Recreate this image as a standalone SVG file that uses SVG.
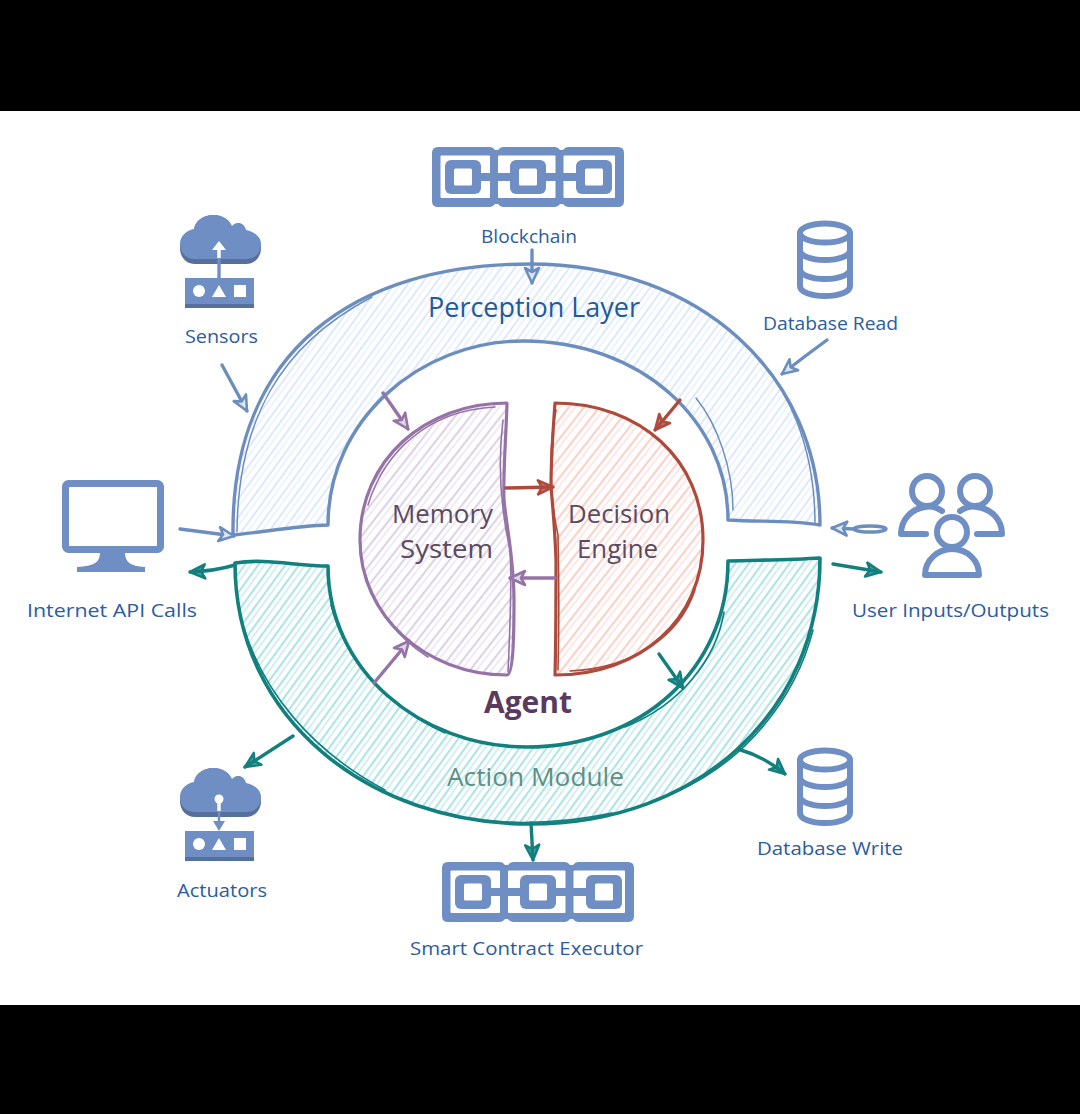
<svg xmlns="http://www.w3.org/2000/svg" xmlns:xlink="http://www.w3.org/1999/xlink" width="1080" height="1114" viewBox="0 0 1080 1114">
<style>
text{font-family:"Open Sans","Noto Sans",sans-serif;text-anchor:start}
.lbl{font-size:19px;fill:#2b5c9f}
.in{font-size:25.500px;fill:#5b4a62}
.ol{fill:none;stroke-linejoin:round;stroke-linecap:round}
.ic{fill:#6f8fc4}
.ics{fill:none;stroke:#6f8fc4;stroke-linecap:round;stroke-linejoin:round}
.arr{fill:none;stroke-width:3.400;stroke-linecap:round}
.blue{stroke:#6c8ebf}.teal{stroke:#12807f}.pur{stroke:#9673a6}.red{stroke:#ae4a3c}
</style>
<defs>
<pattern id="hb" width="11" height="23" patternUnits="userSpaceOnUse" patternTransform="rotate(36)"><path d="M2,0V23" stroke="#dce9fc" stroke-width="2"/><path d="M7,0V23" stroke="#e6effd" stroke-width="1.400"/></pattern>
<pattern id="ht" width="11" height="23" patternUnits="userSpaceOnUse" patternTransform="rotate(36)"><path d="M2,0V23" stroke="#b0e3e6" stroke-width="2.200"/><path d="M7,0V23" stroke="#c4ebed" stroke-width="1.500"/></pattern>
<pattern id="hp" width="12" height="23" patternUnits="userSpaceOnUse" patternTransform="rotate(38)"><path d="M3,0V23" stroke="#dfd2e6" stroke-width="2.200"/><path d="M8,0V23" stroke="#e8dfed" stroke-width="1.300"/></pattern>
<pattern id="hr" width="12" height="23" patternUnits="userSpaceOnUse" patternTransform="rotate(38)"><path d="M3,0V23" stroke="#fad0c9" stroke-width="2.200"/><path d="M8,0V23" stroke="#fcdcd7" stroke-width="1.300"/></pattern>
<marker id="mb" markerUnits="userSpaceOnUse" markerWidth="20" markerHeight="16" refX="15" refY="7" orient="auto" overflow="visible"><path d="M0,0L15,7L0,14L4,7Z" fill="#dae8fc" stroke="#6c8ebf" stroke-width="2.600" stroke-linejoin="round"/></marker>
<marker id="mt" markerUnits="userSpaceOnUse" markerWidth="20" markerHeight="16" refX="15" refY="7" orient="auto" overflow="visible"><path d="M0,0L15,7L0,14L4,7Z" fill="#12807f" fill-opacity=".75" stroke="#12807f" stroke-width="2.600" stroke-linejoin="round"/></marker>
<marker id="mp" markerUnits="userSpaceOnUse" markerWidth="20" markerHeight="16" refX="15" refY="7" orient="auto" overflow="visible"><path d="M0,0L15,7L0,14L4,7Z" fill="#e1d5e7" stroke="#9673a6" stroke-width="2.600" stroke-linejoin="round"/></marker>
<marker id="mr" markerUnits="userSpaceOnUse" markerWidth="20" markerHeight="16" refX="15" refY="7" orient="auto" overflow="visible"><path d="M0,0L15,7L0,14L4,7Z" fill="#ae4a3c" fill-opacity=".7" stroke="#ae4a3c" stroke-width="2.600" stroke-linejoin="round"/></marker>
<g id="chain">
<path class="ic" d="M6,0H58Q61,0 63,3H66Q68,0 71,0H123Q126,0 128,3H131Q133,0 136,0H186Q192,0 192,6V54Q192,60 186,60H136Q133,60 131,57H128Q126,60 123,60H71Q68,60 66,57H63Q61,60 58,60H6Q0,60 0,54V6Q0,0 6,0Z"/>
<g fill="#fff"><rect x="8.500" y="8.500" width="49.500" height="42.500" rx="1"/><rect x="66" y="8.500" width="57.500" height="42.500" rx="1"/><rect x="131.500" y="8.500" width="51.500" height="42.500" rx="1"/></g>
<g class="ic"><rect x="13" y="13" width="36" height="34" rx="6"/><rect x="78" y="13" width="36" height="34" rx="6"/><rect x="144" y="13" width="36" height="34" rx="6"/><rect x="47" y="26" width="100" height="8"/></g>
<g fill="#fff"><rect x="22" y="21.500" width="18" height="17" rx="1.500"/><rect x="87" y="21.500" width="18" height="17" rx="1.500"/><rect x="153" y="21.500" width="18" height="17" rx="1.500"/></g>
</g>
<g id="cloud">
<path fill="#56709e" d="M0,34C0,24 8,17 14,16C15,6 25,1 33,1C42,1 49,5 52,13C56,7 64,8 66,17C75,19 81,25 81,34C81,43 75,50 66,50H15C6,50 0,43 0,34Z"/>
<path class="ic" d="M0,30C0,21 8,16 14,15C15,6 25,1 33,1C42,1 49,5 52,12C56,7 64,8 66,16C75,18 81,23 81,30C81,39 75,45 66,45H15C6,45 0,39 0,30Z"/>
<rect class="ic" x="5" y="64" width="69" height="30"/><rect x="5" y="90" width="69" height="4" fill="#56709e"/>
<circle cx="19" cy="77" r="6" fill="#fff"/><path d="M32,83L39,71L46,83Z" fill="#fff"/><rect x="54" y="71" width="12" height="12" fill="#fff"/>
</g>
<g id="db" class="ics" stroke-width="6">
<ellipse cx="27" cy="12" rx="25" ry="9.500"/>
<path d="M2,12V65C2,71 13,75 27,75C41,75 52,71 52,65V12M2,29C2,35 13,39 27,39C41,39 52,35 52,29M2,48C2,54 13,58 27,58C41,58 52,54 52,48"/>
</g>
</defs>
<rect width="1080" height="1114" fill="#000"/>
<rect y="111" width="1080" height="894" fill="#fff"/>

<g id="perception-layer">
<path fill="url(#hb)" d="M233,535C231,350 355,264 530,264C700,264 820,375 820,525C790,520 760,522 728,520C728,420 640,341 523,341C420,341 328,420 328,525C295,526 265,532 233,535Z"/>
<path class="ol blue" stroke-width="3.400" d="M233,535C231,350 355,264 530,264C700,264 820,375 820,525C790,520 760,522 728,520C728,420 640,341 523,341C420,341 328,420 328,525C295,526 265,532 233,535Z"/>
<path class="ol blue" stroke-width="1.500" d="M237,532C238,420 280,345 372,297M745,345C790,385 815,450 815,524M696,398C718,425 733,470 733,510"/>
<text x="428" y="317" font-size="27" fill="#1f5a9e" textLength="212" lengthAdjust="spacingAndGlyphs">Perception Layer</text>
</g>

<g id="action-module">
<path fill="url(#ht)" d="M235,563C265,558 297,566 328,566C328,670 420,747 527,747C640,747 728,670 728,561C760,560 790,560 820,558C820,710 700,824 530,824C370,824 235,720 235,563Z"/>
<path class="ol teal" stroke-width="3.600" d="M235,563C265,558 297,566 328,566C328,670 420,747 527,747C640,747 728,670 728,561C760,560 790,560 820,558C820,710 700,824 530,824C370,824 235,720 235,563Z"/>
<path class="ol teal" stroke-width="1.600" d="M331,605C345,660 385,705 445,733M625,727C680,705 716,660 724,612M813,630C795,700 745,760 680,790M243,625C262,690 310,750 385,790M455,817C505,825 560,824 612,813"/>
<text x="447" y="786" font-size="26" fill="#5f8f85" textLength="177" lengthAdjust="spacingAndGlyphs">Action Module</text>
</g>

<g id="memory-system">
<path fill="url(#hp)" d="M507,403C425,403 360,460 360,540C360,615 425,675 507,675C513,675 514,640 514,600C514,560 507,530 504,500C503,470 506,440 507,403Z"/>
<path class="ol pur" stroke-width="3.200" d="M507,403C425,403 360,460 360,540C360,615 425,675 507,675C513,675 514,640 514,600C514,560 507,530 504,500C503,470 506,440 507,403Z"/>
<path class="ol pur" stroke-width="1.600" d="M495,407C430,410 385,450 368,505M364,570C375,610 400,640 428,657M503,420C498,460 500,505 510,550C512,580 510,630 508,672"/>
<text x="392" y="523" class="in" textLength="101" lengthAdjust="spacingAndGlyphs">Memory</text>
<text x="400" y="558" class="in" textLength="93" lengthAdjust="spacingAndGlyphs">System</text>
</g>

<g id="decision-engine">
<path fill="url(#hr)" d="M555,403C640,403 703,460 703,540C703,620 640,675 555,675C556,640 556,600 556,560C555,530 553,510 551,487C551,460 553,430 555,403Z"/>
<path class="ol red" stroke-width="3.200" d="M555,403C640,403 703,460 703,540C703,620 640,675 555,675C556,640 556,600 556,560C555,530 553,510 551,487C551,460 553,430 555,403Z"/>
<path class="ol red" stroke-width="1.600" d="M695,590C680,635 635,668 570,671M556,410C548,450 550,500 558,535C559,580 559,630 558,670"/>
<text x="568" y="523" class="in" textLength="102" lengthAdjust="spacingAndGlyphs">Decision</text>
<text x="577" y="558" class="in" textLength="81" lengthAdjust="spacingAndGlyphs">Engine</text>
</g>

<g id="agent"><text x="484" y="713" font-size="30" font-weight="700" fill="#5a3a5e" textLength="88" lengthAdjust="spacingAndGlyphs">Agent</text></g>

<g id="blockchain"><use xlink:href="#chain" href="#chain" x="432" y="147"/><text x="481" y="243" class="lbl" textLength="96" lengthAdjust="spacingAndGlyphs">Blockchain</text></g>

<g id="sensors"><use xlink:href="#cloud" href="#cloud" x="180" y="214"/>
<path d="M219,278V258" stroke="#6f8fc4" stroke-width="3.400"/><path d="M219,258V246" stroke="#fff" stroke-width="3.400"/><path d="M212,250L219,241L226,250Z" fill="#fff"/>
<text x="185" y="343" class="lbl" textLength="73" lengthAdjust="spacingAndGlyphs">Sensors</text></g>

<g id="database-read"><use xlink:href="#db" href="#db" x="798" y="221"/><text x="763" y="330" class="lbl" textLength="135" lengthAdjust="spacingAndGlyphs">Database Read</text></g>

<g id="internet-api"><rect x="65.500" y="483.500" width="95" height="66" rx="3" fill="none" stroke="#6f8fc4" stroke-width="7"/>
<path class="ic" d="M100,552H125C125,562 130,566 145,567V572H77V567C95,566 100,562 100,552Z"/>
<text x="27" y="617" class="lbl" textLength="170" lengthAdjust="spacingAndGlyphs">Internet API Calls</text></g>

<g id="users"><g class="ics" stroke-width="6">
<circle cx="927" cy="491" r="15"/><circle cx="975" cy="491" r="15"/><circle cx="952" cy="532" r="15"/>
<path d="M942,511C936,507 930,506 925,507C911,509 901,520 901,534H926M960,511C966,507 972,506 977,507C992,509 1002,520 1002,534H977"/>
<path d="M925,575C925,560 938,549 952,549C967,549 979,560 979,575Z"/>
</g><text x="852" y="617" class="lbl" textLength="197" lengthAdjust="spacingAndGlyphs">User Inputs/Outputs</text></g>

<g id="actuators"><use xlink:href="#cloud" href="#cloud" x="180" y="767"/>
<circle cx="219" cy="799" r="4.500" fill="#fff"/><path d="M219,799V811" stroke="#fff" stroke-width="3.400"/><path d="M219,811V826" stroke="#6f8fc4" stroke-width="2.500"/><path d="M213,821L219,831L225,821Z" class="ic"/>
<text x="177" y="897" class="lbl" textLength="90" lengthAdjust="spacingAndGlyphs">Actuators</text></g>

<g id="smart-contract"><use xlink:href="#chain" href="#chain" x="442" y="862"/><text x="410" y="955" class="lbl" textLength="233" lengthAdjust="spacingAndGlyphs">Smart Contract Executor</text></g>

<g id="database-write"><use xlink:href="#db" href="#db" x="798" y="748"/><text x="757" y="855" class="lbl" textLength="146" lengthAdjust="spacingAndGlyphs">Database Write</text></g>

<g id="connectors">
<path class="arr blue" marker-end="url(#mb)" d="M532,250L532,283"/>
<path class="arr blue" marker-end="url(#mb)" d="M222,365L247,411"/>
<path class="arr blue" marker-end="url(#mb)" d="M827,340Q805,356 782,374"/>
<path class="arr blue" marker-end="url(#mb)" d="M180,529L234,536"/>
<ellipse class="arr blue" cx="870" cy="529" rx="16" ry="3" stroke-width="2.600"/>
<path class="arr blue" marker-end="url(#mb)" d="M854,529L832,528"/>
<path class="arr teal" marker-end="url(#mt)" d="M235,565Q215,571 190,572"/>
<path class="arr teal" marker-end="url(#mt)" d="M833,564L881,572"/>
<path class="arr teal" marker-end="url(#mt)" d="M293,736L245,767"/>
<path class="arr teal" marker-end="url(#mt)" d="M531,823L533,860"/>
<path class="arr teal" marker-end="url(#mt)" d="M738,749Q765,757 785,774"/>
<path class="arr teal" marker-end="url(#mt)" d="M659,654L683,688"/>
<path class="arr pur" marker-end="url(#mp)" d="M383,393L408,429"/>
<path class="arr red" marker-end="url(#mr)" d="M680,400L655,430"/>
<path class="arr red" marker-end="url(#mr)" d="M506,488L553,487"/>
<path class="arr pur" marker-end="url(#mp)" d="M555,578L510,578"/>
<path class="arr pur" marker-end="url(#mp)" d="M374,683L409,641"/>
</g>
</svg>
